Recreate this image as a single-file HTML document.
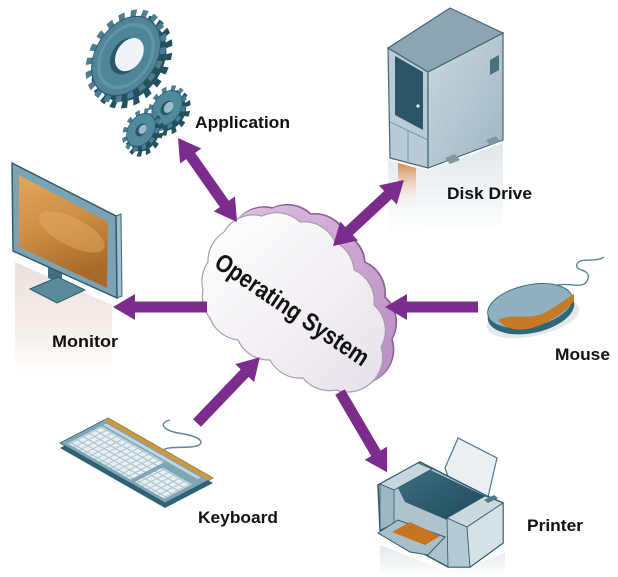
<!DOCTYPE html>
<html><head><meta charset="utf-8">
<style>
html,body{margin:0;padding:0;background:#fff;}
svg{display:block;}
text{font-family:"Liberation Sans",Arial,sans-serif;font-weight:bold;fill:#111;}
</style></head><body>
<svg width="618" height="577" viewBox="0 0 618 577" xmlns="http://www.w3.org/2000/svg">
<defs>
 <linearGradient id="cloudFront" x1="0" y1="0" x2="1" y2="1">
  <stop offset="0" stop-color="#ffffff"/>
  <stop offset="0.55" stop-color="#f3eff5"/>
  <stop offset="1" stop-color="#e6e0ea"/>
 </linearGradient>
 <linearGradient id="ext" x1="0" y1="0" x2="1" y2="1">
  <stop offset="0" stop-color="#dcc2e0"/>
  <stop offset="1" stop-color="#b98dc1"/>
 </linearGradient>
 <path id="cloud" d="M208,262 A34,34 0 0 1 224,232 A34,34 0 0 1 262,216 A34,34 0 0 1 300,222 A34,34 0 0 1 335,242 A34,34 0 0 1 354,270 A34,34 0 0 1 374,305 A34,34 0 0 1 381,347 A34,34 0 0 1 367,386 A34,34 0 0 1 336,390 A34,34 0 0 1 303,378 A34,34 0 0 1 270,360 A34,34 0 0 1 238,340 A34,34 0 0 1 210,318 A34,34 0 0 1 203,290 A34,34 0 0 1 208,262 Z"/>
 <linearGradient id="screen" x1="0" y1="0" x2="0.3" y2="1">
  <stop offset="0" stop-color="#e3a65a"/>
  <stop offset="0.5" stop-color="#cf8f45"/>
  <stop offset="1" stop-color="#a9692a"/>
 </linearGradient>
 <linearGradient id="reflM" x1="0" y1="0" x2="0" y2="1">
  <stop offset="0" stop-color="#e9e2de"/>
  <stop offset="0.5" stop-color="#f3ebe6"/>
  <stop offset="1" stop-color="#ffffff"/>
 </linearGradient>
 <linearGradient id="reflT" x1="0" y1="0" x2="0" y2="1">
  <stop offset="0" stop-color="#dfe7eb"/>
  <stop offset="1" stop-color="#ffffff"/>
 </linearGradient>
 <linearGradient id="orangeT" x1="0" y1="0" x2="0" y2="1">
  <stop offset="0" stop-color="#d58b4a"/>
  <stop offset="1" stop-color="#ffffff" stop-opacity="0"/>
 </linearGradient>
 <linearGradient id="towerSide" x1="0" y1="0" x2="1" y2="1">
  <stop offset="0" stop-color="#cbd9e0"/>
  <stop offset="1" stop-color="#9fb5c1"/>
 </linearGradient>
 <linearGradient id="ptop" x1="0" y1="0" x2="1" y2="1">
  <stop offset="0" stop-color="#3e6f82"/>
  <stop offset="1" stop-color="#1f4a5b"/>
 </linearGradient>
 <linearGradient id="reflP" x1="0" y1="0" x2="0" y2="1">
  <stop offset="0" stop-color="#e3e9ec"/>
  <stop offset="1" stop-color="#ffffff"/>
 </linearGradient>
 <pattern id="keys" width="5" height="5" patternUnits="userSpaceOnUse">
  <rect width="5" height="5" fill="#a9c2cc"/>
  <rect x="0.5" y="0.5" width="4" height="4" fill="#e8eff2"/>
 </pattern>
</defs>

<!-- ===== Gears (Application) ===== -->
<g transform="translate(132,62) rotate(-57) scale(1,0.7)">
 <circle r="46" fill="none" stroke="#25505f" stroke-width="9" stroke-dasharray="7.22 7.22"/>
 <circle r="43" fill="#25505f"/>
</g>
<g transform="translate(126,56) rotate(-57) scale(1,0.7)">
 <circle r="46" fill="none" stroke="#4b7e92" stroke-width="9" stroke-dasharray="7.22 7.22"/>
 <circle r="43" fill="#4f8499" stroke="#2c5a6b" stroke-width="1.2"/>
 <circle r="34" fill="none" stroke="#5f95a9" stroke-width="4"/>
 <circle r="20" fill="#2b5868"/>
 <circle cx="3" cy="3" r="18" fill="#eef3f5"/>
</g>
<g transform="translate(171,113) rotate(-57) scale(1,0.7)">
 <circle r="21" fill="none" stroke="#25505f" stroke-width="7" stroke-dasharray="5.5 5.5"/>
 <circle r="19" fill="#25505f"/>
</g>
<g transform="translate(167,108) rotate(-57) scale(1,0.7)">
 <circle r="21" fill="none" stroke="#4b7e92" stroke-width="7" stroke-dasharray="5.5 5.5"/>
 <circle r="19" fill="#50889c" stroke="#2c5a6b" stroke-width="1"/>
 <circle r="8" fill="#2b5868"/>
 <circle cx="1.5" cy="1.5" r="6" fill="#9dbccb"/>
</g>
<g transform="translate(145,135) rotate(-57) scale(1,0.7)">
 <circle r="20" fill="none" stroke="#25505f" stroke-width="7" stroke-dasharray="5.2 5.2"/>
 <circle r="18" fill="#25505f"/>
</g>
<g transform="translate(141,130) rotate(-57) scale(1,0.7)">
 <circle r="20" fill="none" stroke="#4b7e92" stroke-width="7" stroke-dasharray="5.2 5.2"/>
 <circle r="18" fill="#50889c" stroke="#2c5a6b" stroke-width="1"/>
 <circle r="7" fill="#2b5868"/>
 <circle cx="1.5" cy="1.5" r="5" fill="#9dbccb"/>
</g>

<!-- ===== Tower (Disk Drive) ===== -->
<polygon points="388,160 428,170 503,143 503,225 388,235" fill="url(#reflT)"/>
<polygon points="398,163 416,168 416,210 398,205" fill="url(#orangeT)"/>
<polygon points="388,48 428,72 428,168 390,158" fill="#b9ccd5" stroke="#3f6677" stroke-width="1.2"/>
<polygon points="395,56 423,72 423,130 395,115" fill="#2c5668"/>
<circle cx="418" cy="106" r="1.6" fill="#e8f0f3"/>
<line x1="390" y1="122" x2="428" y2="140" stroke="#7d98a5" stroke-width="1"/>
<line x1="408" y1="131" x2="408" y2="163" stroke="#7d98a5" stroke-width="1"/>
<polygon points="428,72 503,33 503,140 428,168" fill="url(#towerSide)" stroke="#3f6677" stroke-width="1.2"/>
<polygon points="388,48 450,8 503,33 428,72" fill="#8ca5b2" stroke="#3f6677" stroke-width="1.2"/>
<polygon points="490,60 499,55 499,70 490,75" fill="#49707f"/>
<polygon points="445,158 455,154 460,160 450,164" fill="#7f97a3"/>
<polygon points="486,140 496,136 500,141 490,145" fill="#7f97a3"/>

<!-- ===== Monitor ===== -->
<polygon points="15,262 112,305 112,375 15,375" fill="url(#reflM)"/>
<polygon points="48,264 62,271 62,284 48,278" fill="#40707f"/>
<polygon points="30,289 58,277 85,290 57,303" fill="#5a8a9c" stroke="#2e5b6b" stroke-width="1"/>
<polygon points="116,216 121,214 122,296 117,298" fill="#a6bfca" stroke="#3a6676" stroke-width="1"/>
<polygon points="12,163 116,216 117,298 13,251" fill="#7ba3b4" stroke="#2f5c6c" stroke-width="1.5"/>
<polygon points="19,175 108,222 107,288 19,247" fill="url(#screen)"/>
<ellipse cx="72" cy="232" rx="36" ry="14" transform="rotate(27 72 232)" fill="#e9b06a" opacity="0.45"/>

<!-- ===== Mouse ===== -->
<ellipse cx="533" cy="318" rx="47" ry="18" fill="#e5e7e8" transform="rotate(-12 533 318)"/>
<path d="M553,286 C570,281 584,291 588,279 C591,268 574,272 577,264 C580,257 595,263 604,257" fill="none" stroke="#5f8797" stroke-width="1.4"/>
<ellipse cx="531" cy="311" rx="44" ry="22" fill="#2f6678" transform="rotate(-12 531 311)"/>
<ellipse cx="530" cy="306" rx="43" ry="21" fill="#8fb1c1" stroke="#3b6f80" stroke-width="1" transform="rotate(-12 530 306)"/>
<path d="M498,320 C514,312 530,322 548,311 C560,304 568,297 574,294 L574,301 C565,312 551,322 532,328 C516,332 505,328 498,320 Z" fill="#c77a25"/>

<!-- ===== Keyboard ===== -->
<path d="M170,420 C158,423 162,431 184,434 C205,438 206,446 190,447 C175,448 166,446 161,452" fill="none" stroke="#5f8797" stroke-width="1.4"/>
<g transform="translate(0,5)">
 <g transform="matrix(1.05,0.6,-1.2,0.625,108,418)">
  <rect x="0" y="0" width="100" height="40" fill="#2f6273"/>
 </g>
</g>
<g transform="matrix(1.05,0.6,-1.2,0.625,108,418)">
 <rect x="0" y="0" width="100" height="40" fill="#7ea6b6" stroke="#2e5f70" stroke-width="0.8"/>
 <rect x="0" y="0" width="100" height="3.5" fill="#d69531"/>
 <rect x="4" y="9" width="60" height="28" fill="url(#keys)"/>
 <rect x="68" y="14" width="28" height="23" fill="url(#keys)"/>
 <rect x="4" y="5" width="90" height="2.5" fill="#c3d5dc"/>
</g>

<!-- ===== Printer ===== -->
<polygon points="380,545 450,572 505,553 505,577 380,577" fill="url(#reflP)"/>
<polygon points="445,468 458,438 497,458 488,497 452,488" fill="#e9eff2" stroke="#4f7787" stroke-width="1.2"/>
<polygon points="378,485 420,462 485,495 503,503 503,543 470,567 448,567 380,530" fill="#aec3cd" stroke="#2e5b6b" stroke-width="1.5"/>
<polygon points="398,488 424,467 485,496 466,512 447,520 405,502" fill="url(#ptop)"/>
<polygon points="380,484 418,463 432,469 394,490" fill="#c6d6dd" stroke="#2e5b6b" stroke-width="0.8"/>
<polygon points="380,484 394,490 394,524 380,530" fill="#9fb7c2" stroke="#2e5b6b" stroke-width="0.8"/>
<polygon points="447,518 485,496 503,503 467,527" fill="#cbd9df" stroke="#2e5b6b" stroke-width="0.8"/>
<polygon points="484,500 494,495 498,498 488,503" fill="#4d7a8a"/>
<polygon points="447,518 467,527 470,567 448,567" fill="#b5c9d2" stroke="#2e5b6b" stroke-width="0.8"/>
<polygon points="467,527 503,503 503,543 470,567" fill="#d5e1e6" stroke="#2e5b6b" stroke-width="0.8"/>
<polygon points="378,533 398,520 445,537 428,555 410,552" fill="#a9bfc9" stroke="#2e5b6b" stroke-width="1"/>
<polygon points="392,532 410,522 440,536 425,545" fill="#c8731f"/>

<!-- ===== Cloud ===== -->
<use href="#cloud" transform="translate(11,-8)" fill="#a877b2" stroke="#8d5e98" stroke-width="1.5"/>
<use href="#cloud" transform="translate(10,-7.3)" fill="url(#ext)"/>
<use href="#cloud" transform="translate(9,-6.6)" fill="url(#ext)"/>
<use href="#cloud" transform="translate(8,-5.8)" fill="url(#ext)"/>
<use href="#cloud" transform="translate(7,-5.1)" fill="url(#ext)"/>
<use href="#cloud" transform="translate(6,-4.4)" fill="url(#ext)"/>
<use href="#cloud" transform="translate(5,-3.6)" fill="url(#ext)"/>
<use href="#cloud" transform="translate(4,-2.9)" fill="url(#ext)"/>
<use href="#cloud" transform="translate(3,-2.2)" fill="url(#ext)"/>
<use href="#cloud" transform="translate(2,-1.5)" fill="url(#ext)"/>
<use href="#cloud" transform="translate(1,-0.7)" fill="url(#ext)"/>
<use href="#cloud" fill="url(#cloudFront)" stroke="#a89cb0" stroke-width="1.2"/>
<text x="0" y="8" text-anchor="middle" font-size="25" textLength="180" lengthAdjust="spacingAndGlyphs" transform="translate(292,310) rotate(34)">Operating System</text>

<!-- ===== Arrows ===== -->
<g fill="#7b2c8c">
 <polygon transform="translate(178,138) rotate(54.9)" points="0,0 22,-13 22,-5.5 80.6,-5.5 80.6,-13 102.6,0 80.6,13 80.6,5.5 22,5.5 22,13"/>
 <polygon transform="translate(333,246) rotate(-42.9)" points="0,0 22,-13 22,-5.5 74.9,-5.5 74.9,-13 96.9,0 74.9,13 74.9,5.5 22,5.5 22,13"/>
 <polygon transform="translate(207,307) rotate(180)" points="0,-5.5 72,-5.5 72,-13 94,0 72,13 72,5.5 0,5.5"/>
 <polygon transform="translate(478,307) rotate(180)" points="0,-5.5 71,-5.5 71,-13 93,0 71,13 71,5.5 0,5.5"/>
 <polygon transform="translate(197,423) rotate(-46.3)" points="0,-5.5 69,-5.5 69,-13 91,0 69,13 69,5.5 0,5.5"/>
 <polygon transform="translate(340,392) rotate(59.6)" points="0,-5.5 71,-5.5 71,-13 93,0 71,13 71,5.5 0,5.5"/>
</g>

<!-- ===== Labels ===== -->
<text x="195" y="128" font-size="17" textLength="95" lengthAdjust="spacingAndGlyphs">Application</text>
<text x="447" y="199" font-size="17" textLength="85" lengthAdjust="spacingAndGlyphs">Disk Drive</text>
<text x="52" y="347" font-size="17" textLength="66" lengthAdjust="spacingAndGlyphs">Monitor</text>
<text x="555" y="360" font-size="17" textLength="55" lengthAdjust="spacingAndGlyphs">Mouse</text>
<text x="198" y="523" font-size="17" textLength="80" lengthAdjust="spacingAndGlyphs">Keyboard</text>
<text x="527" y="531" font-size="17" textLength="56" lengthAdjust="spacingAndGlyphs">Printer</text>
</svg>
</body></html>
